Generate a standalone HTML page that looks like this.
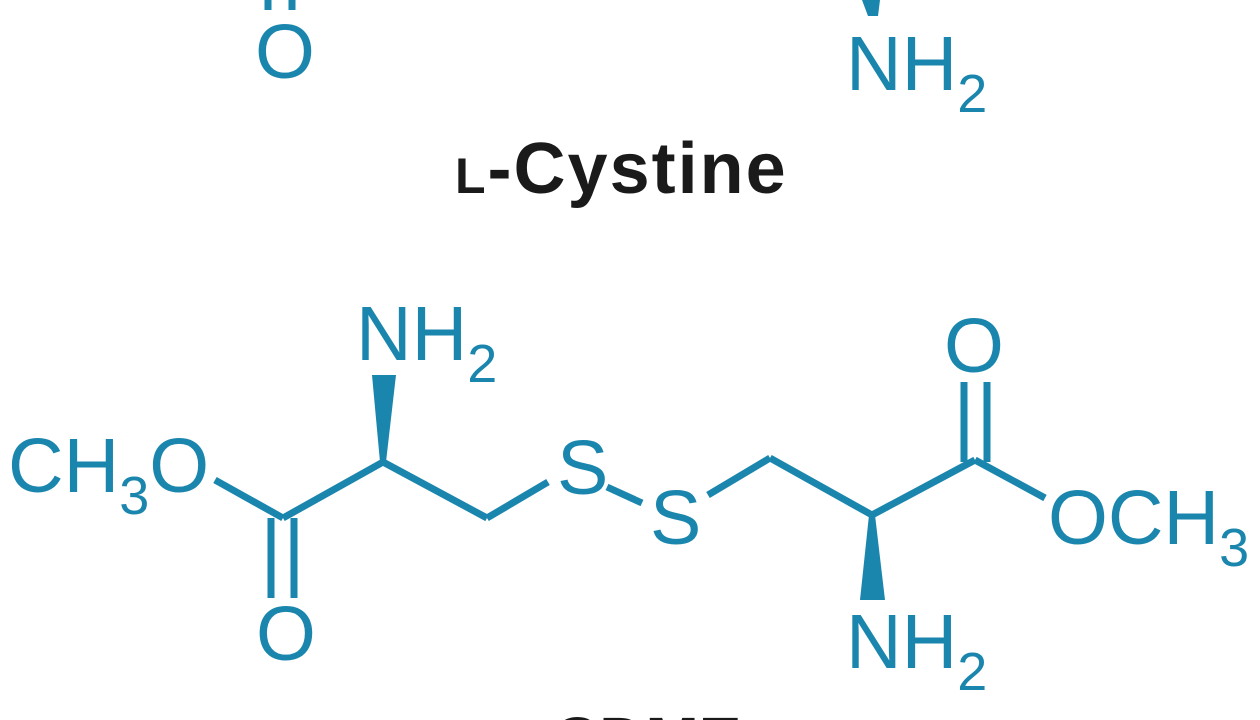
<!DOCTYPE html>
<html><head><meta charset="utf-8"><style>
html,body{margin:0;padding:0;background:#fff;width:1260px;height:720px;overflow:hidden}
svg{display:block}
.t{font-family:"Liberation Sans",sans-serif;fill:#1b86ad;font-size:77px}
.s{font-size:54px}
</style></head><body>
<svg width="1260" height="720" viewBox="0 0 1260 720" style="overflow:hidden">
<g stroke="#1b86ad" stroke-width="7" fill="none" stroke-linecap="butt">
<line x1="268" y1="0" x2="268" y2="10"/>
<line x1="292" y1="0" x2="292" y2="10"/>
<line x1="215" y1="480" x2="283" y2="518"/>
<line x1="283" y1="518" x2="383" y2="462"/>
<line x1="383" y1="462" x2="487" y2="518"/>
<line x1="487" y1="518" x2="548" y2="482"/>
<line x1="607" y1="487" x2="642" y2="503"/>
<line x1="708" y1="495" x2="770" y2="458"/>
<line x1="770" y1="458" x2="872" y2="515"/>
<line x1="872" y1="515" x2="975" y2="460"/>
<line x1="975" y1="460" x2="1045" y2="498"/>
<line x1="271" y1="518" x2="271" y2="598"/>
<line x1="294" y1="518" x2="294" y2="598"/>
<line x1="964" y1="462" x2="964" y2="382"/>
<line x1="987" y1="462" x2="987" y2="382"/>
</g>
<polygon points="862,0 880,0 878,16 868,16" fill="#1b86ad"/>
<polygon points="372,375 396,375 386,462 380,462" fill="#1b86ad"/>
<polygon points="869,515 875,515 885,600 860,600" fill="#1b86ad"/>
<text class="t" x="255" y="78">O</text>
<text class="t" x="846" y="90">NH<tspan class="s" dy="22">2</tspan></text>
<text x="455" y="193" font-family="Liberation Sans,sans-serif" font-weight="bold" font-size="72" fill="#1a1a1a" letter-spacing="2"><tspan font-size="50">L</tspan>-Cystine</text>
<text class="t" x="356" y="360">NH<tspan class="s" dy="22">2</tspan></text>
<text class="t" x="8" y="492">CH<tspan class="s" dy="22">3</tspan><tspan dy="-22">O</tspan></text>
<text class="t" x="256" y="660">O</text>
<text class="t" x="557" y="494">S</text>
<text class="t" x="650" y="544">S</text>
<text class="t" x="944" y="372">O</text>
<text class="t" x="1048" y="544">OCH<tspan class="s" dy="22">3</tspan></text>
<text class="t" x="846" y="668">NH<tspan class="s" dy="22">2</tspan></text>
<text x="553" y="762" font-family="Liberation Sans,sans-serif" font-weight="bold" font-size="64" fill="#1a1a1a">CDME</text>
</svg>
</body></html>
